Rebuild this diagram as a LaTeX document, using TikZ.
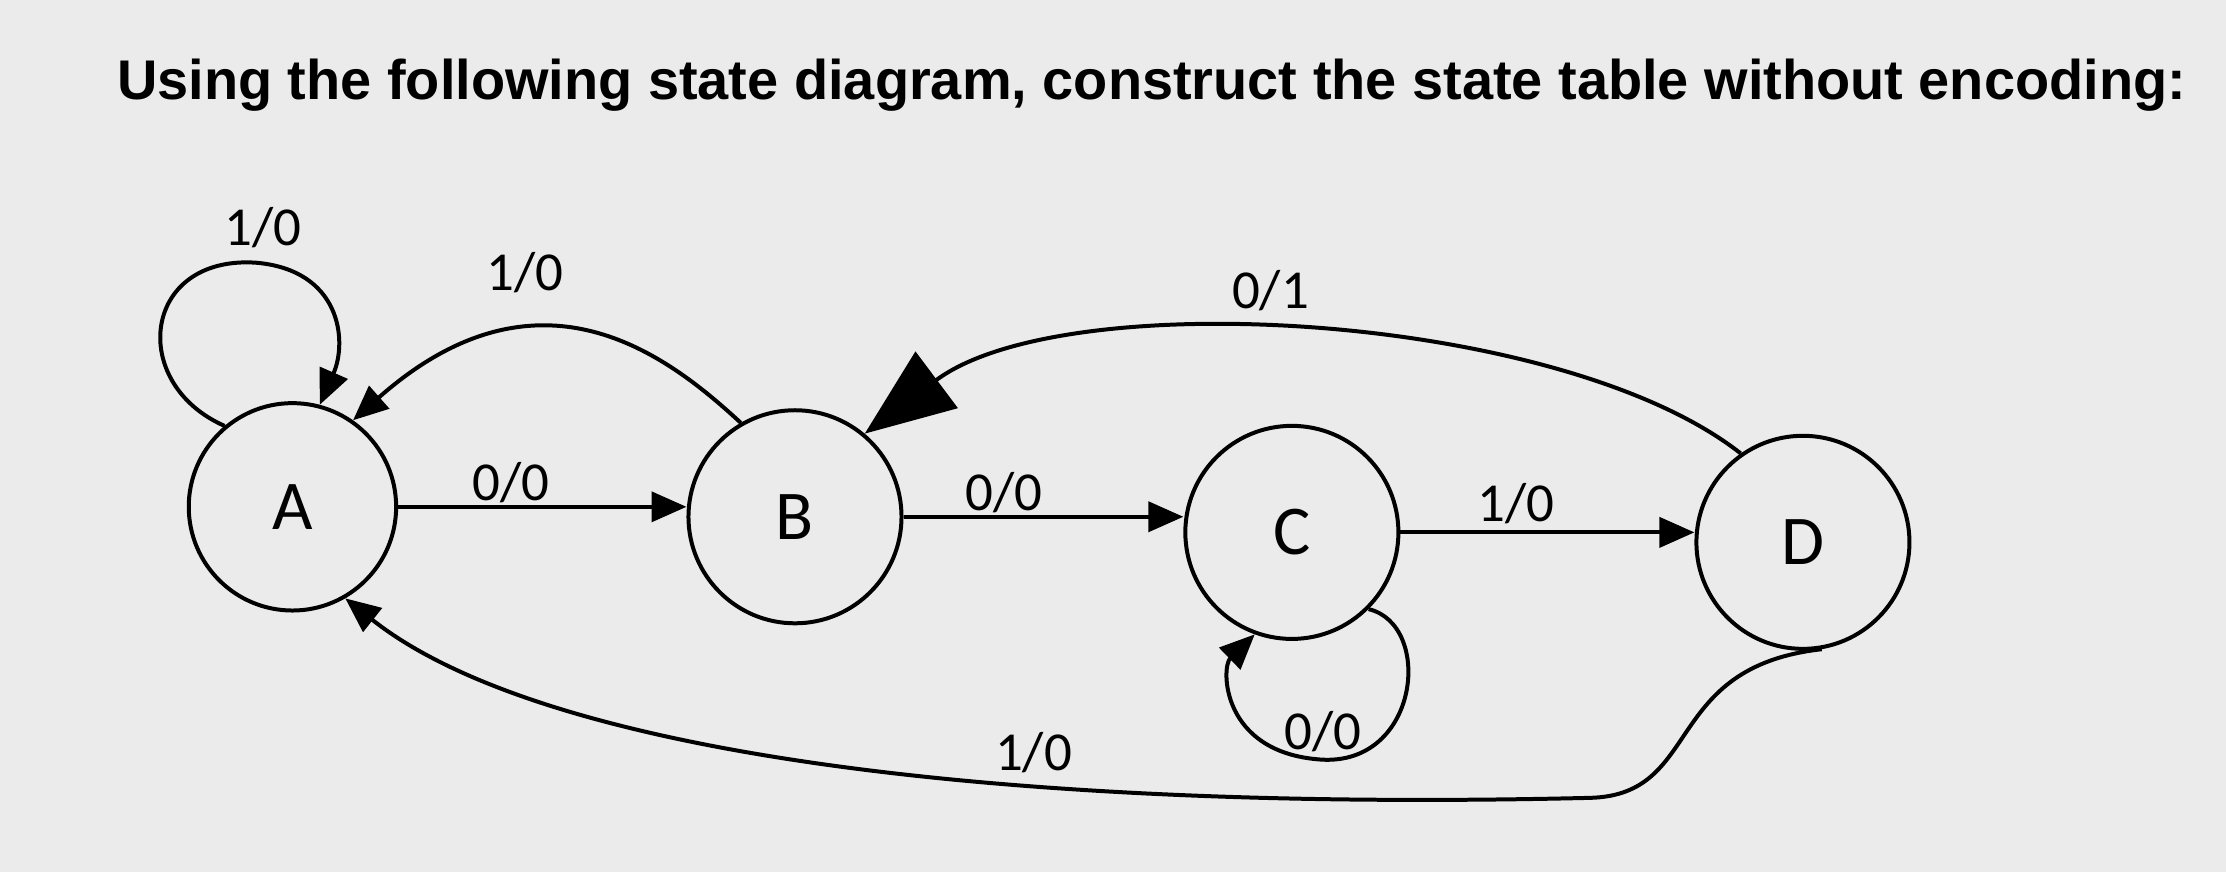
\documentclass[tikz,border=0pt]{standalone}
\usepackage{fontspec}
\setmainfont{Carlito}
\newfontfamily\titlefont{Liberation Sans}
\usetikzlibrary{arrows.meta}
\begin{document}
\begin{tikzpicture}[x=0.01cm,y=-0.01cm,
  st/.style={draw,circle,thick,minimum size=1.46cm,inner sep=0pt,font=\fontsize{14}{16}\selectfont},
  lbl/.style={font=\fontsize{11}{13}\selectfont},
  ar/.style={thick,-{Triangle[length=7pt,width=6pt]}}]
\fill[black!8] (0,0) rectangle (1568,614);
\useasboundingbox (0,0) rectangle (1568,614);
\node[anchor=west,font=\titlefont\bfseries\fontsize{11.2}{14}\selectfont] (t) at (70,60) {Using the following state diagram, construct the state table without encoding:};
\node[st] (A) at (206,357) {A};
\node[st,minimum size=1.5cm] (B) at (560,364) {B};
\node[st,minimum size=1.5cm] (C) at (910,375) {C};
\node[st,minimum size=1.5cm] (D) at (1270,382) {D};
\draw[ar] (A.east) -- (B.west |- A.east);
\draw[ar] (B.east) -- (C.west |- B.east);
\draw[ar] (C.east) -- (D.west |- C.east);
\draw[ar] (A.130) .. controls (90,270) and (100,180) .. (180,185) .. controls (240,190) and (245,240) .. (A.75);
\draw[ar] (B.120) .. controls (470,250) and (380,180) .. (A.55);
\draw[thick,-{Triangle[length=18pt,width=14pt]}] (D.125) .. controls (1100,220) and (750,200) .. (B.50);
\draw[ar] (C.-45) .. controls (1010,440) and (1000,540) .. (930,535) .. controls (860,530) and (860,470) .. (C.-110);
\draw[ar] (D.-80) .. controls (1170,470) and (1200,560) .. (1120,562) .. controls (700,572) and (380,530) .. (A.-60);
\node[lbl] (l1) at (185,160) {1/0};
\node[lbl] (l2) at (370,192) {1/0};
\node[lbl] (l3) at (360,340) {0/0};
\node[lbl] (l4) at (707,347) {0/0};
\node[lbl] (l5) at (1068,355) {1/0};
\node[lbl] (l6) at (895,205) {0/1};
\node[lbl] (l7) at (932,515) {0/0};
\node[lbl] (l8) at (728,530) {1/0};
\end{tikzpicture}
\end{document}
